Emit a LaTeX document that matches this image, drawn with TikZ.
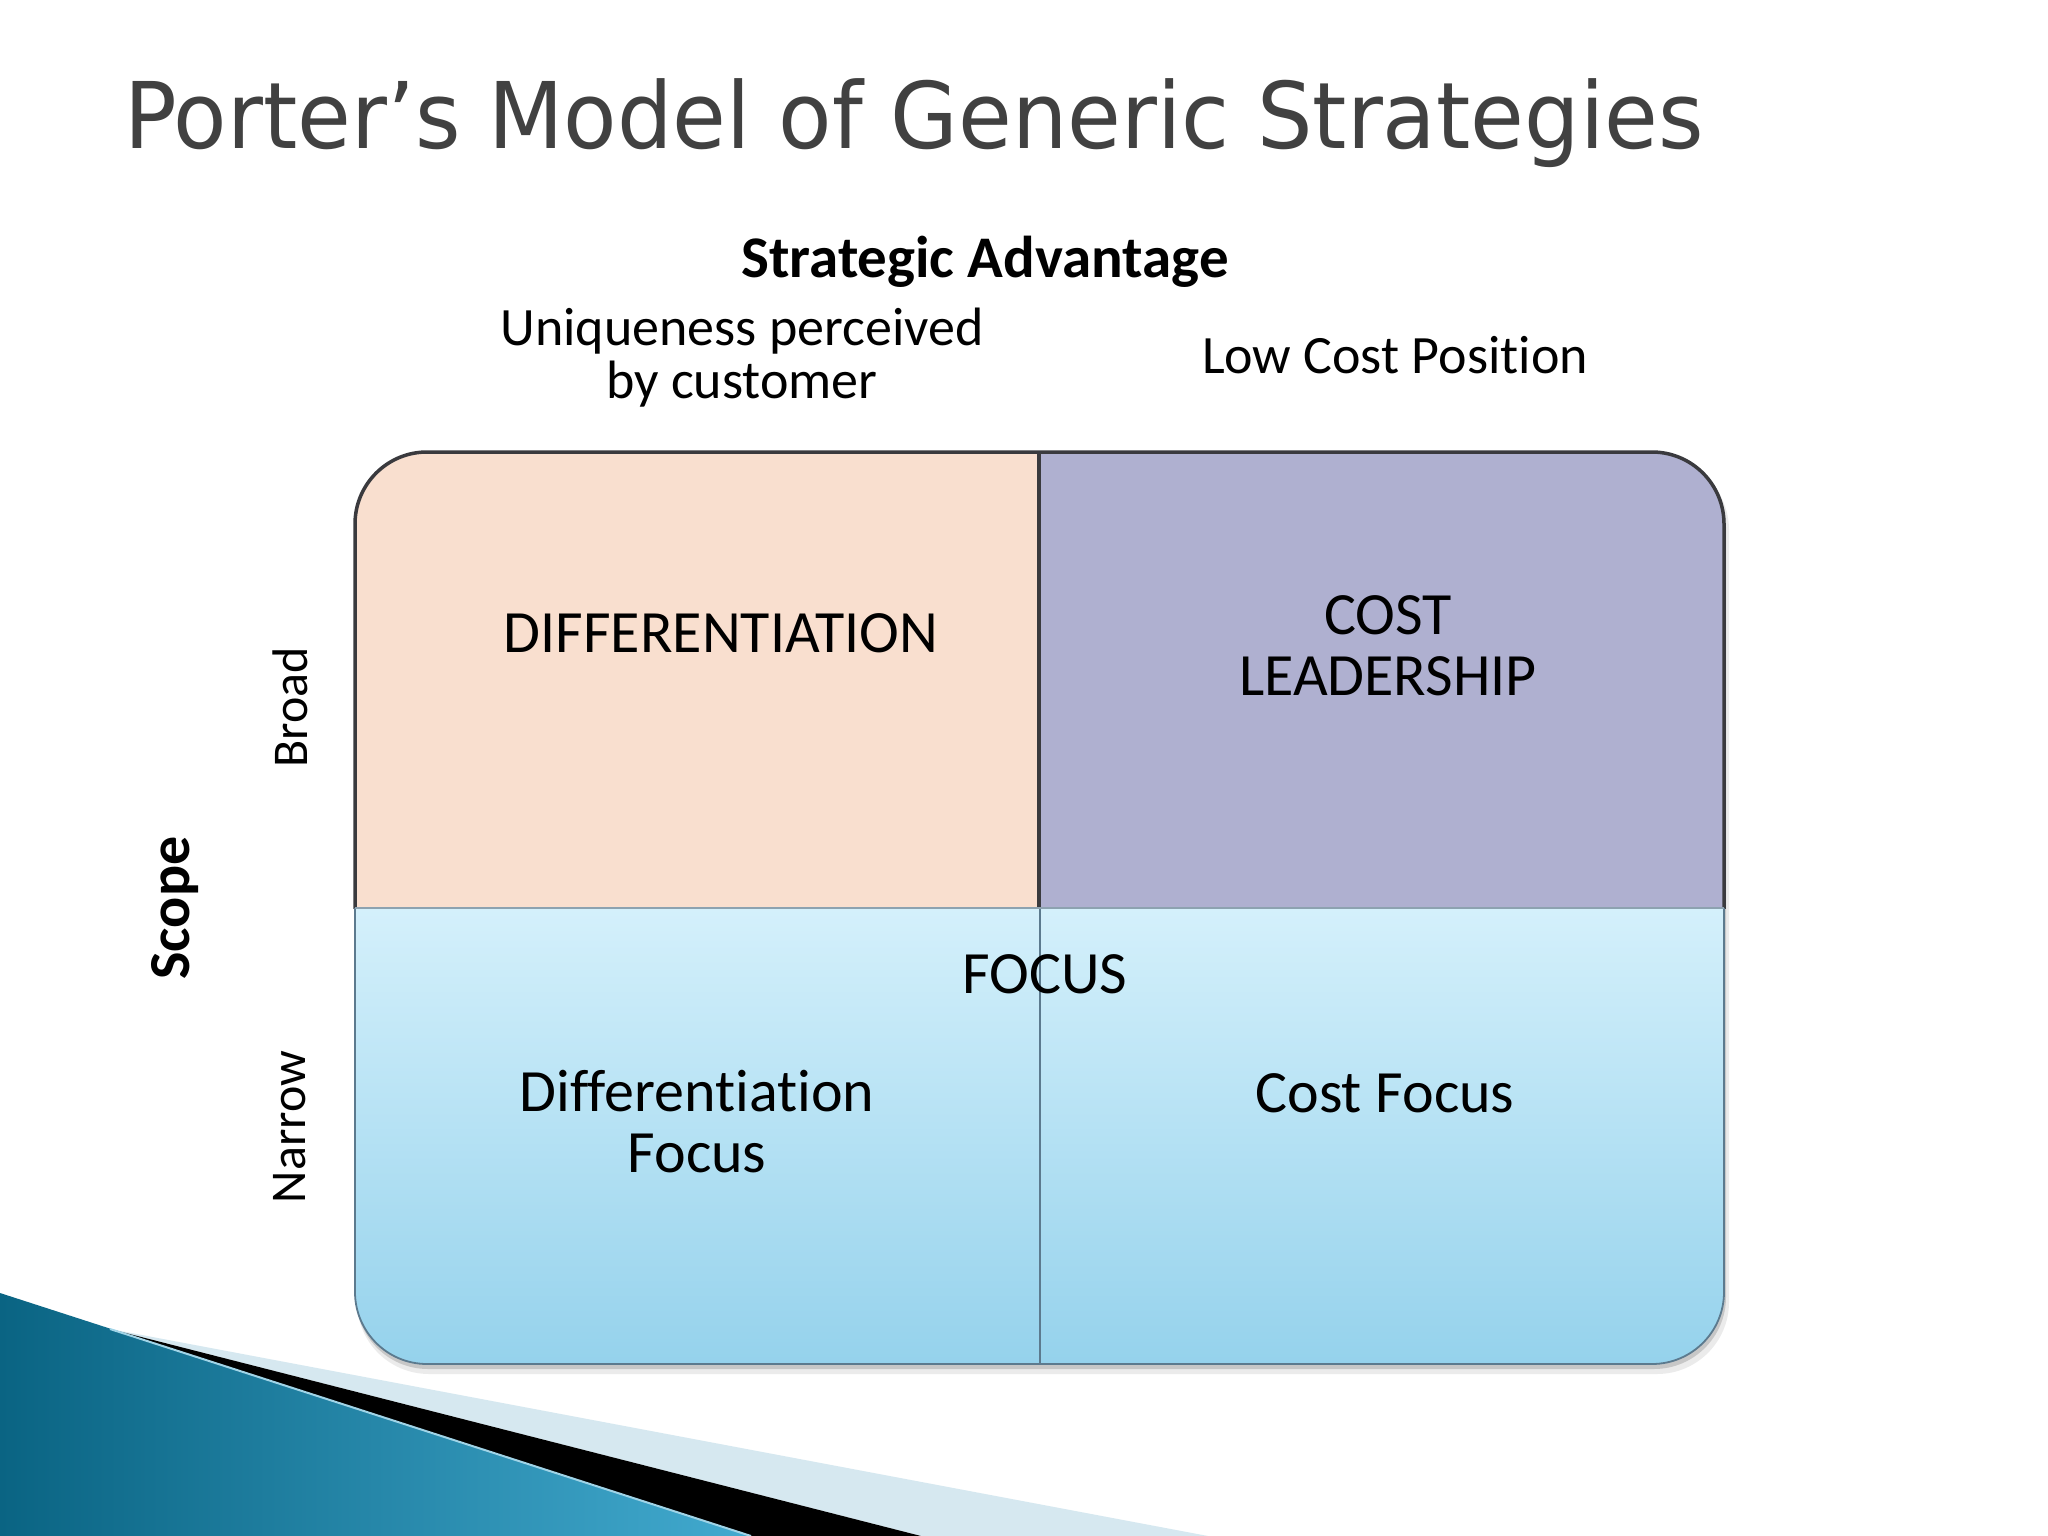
\documentclass[tikz,border=0pt]{standalone}
\usepackage{fontspec}
\setmainfont{Carlito}[Ligatures=NoCommon]
\newfontfamily\titlefont[FakeStretch=0.95]{DejaVu Sans}

\definecolor{peach}{HTML}{F9DFCF}
\definecolor{lavender}{HTML}{AFB0D0}
\definecolor{skytop}{HTML}{D4F0FB}
\definecolor{skybottom}{HTML}{95D2EC}
\definecolor{griddark}{HTML}{3A3A3E}
\definecolor{gridblue}{HTML}{5C7A8E}
\definecolor{titlegray}{HTML}{414141}
\definecolor{swooshdark}{HTML}{0A6483}
\definecolor{swooshlight}{HTML}{42AACF}
\definecolor{swooshpale}{HTML}{D6E8F0}

\begin{document}
\begin{tikzpicture}[x=1pt,y=-1pt]
\tikzstyle{title_text} = [font=\titlefont\fontsize{92}{100}\selectfont, text=titlegray,
anchor=base, inner sep=0pt]
\tikzstyle{head_text} = [font=\fontsize{54}{53}\selectfont, align=center,
anchor=base, inner sep=0pt]
\tikzstyle{cell_text} = [font=\fontsize{60}{61}\selectfont, align=center,
anchor=base, inner sep=0pt]
\tikzstyle{axis_text} = [font=\fontsize{50}{52}\selectfont, rotate=90, inner sep=0pt]
\tikzstyle{axis_title} = [font=\bfseries\fontsize{58}{60}\selectfont, rotate=90, inner sep=0pt]

\useasboundingbox (0,0) rectangle (2048,1536);
\fill[white] (0,0) rectangle (2048,1536);

% swoosh in the corner
\fill[swooshpale] (110,1329) -- (1208,1536) -- (921,1536) -- cycle;
\shade[left color=swooshdark, right color=swooshlight] (0,1293) -- (751,1536) -- (0,1536) -- cycle;
\fill[black] (110,1329) -- (921,1536) -- (751,1536) -- cycle;
\draw[swooshlight!50!white, line width=2] (110,1329) -- (751,1536);

% shadow
\fill[black, opacity=0.08, rounded corners=72] (357,458) rectangle (1729,1374);
\fill[black, opacity=0.15, rounded corners=72] (356,456) rectangle (1726,1369);

% cells
\begin{scope}
\clip[rounded corners=72] (355,452) rectangle (1724,1364);
\fill[peach] (355,452) rectangle (1039,908);
\fill[lavender] (1039,452) rectangle (1724,908);
\shade[top color=skytop, bottom color=skybottom] (355,908) rectangle (1724,1364);
\end{scope}

% borders
\begin{scope}
\clip (300,400) rectangle (1780,908);
\draw[griddark, line width=3.5, rounded corners=72] (355,452) rectangle (1724,1364);
\end{scope}
\begin{scope}
\clip (300,908) rectangle (1780,1420);
\draw[gridblue, line width=1.8, rounded corners=72] (355,452) rectangle (1724,1364);
\end{scope}
\draw[griddark, line width=3.5] (1039,452) -- (1039,908);
\draw[gridblue, line width=1.8] (1040,908) -- (1040,1364);
\draw[gridblue!70!white, line width=1.5] (355,908) -- (1724,908);

% texts (multi-line nodes sit on their last line)
\node[title_text] (title) at (914,149) {Porter’s Model of Generic Strategies};
\node[head_text, font=\bfseries\fontsize{59}{60}\selectfont] (advantage) at (985,277) {Strategic Advantage};
\node[head_text] (uniqueness) at (742,398) {Uniqueness perceived\\by customer};
\node[head_text] (low_cost) at (1395,373) {Low Cost Position};

\node[cell_text] (differentiation) at (721,652) {DIFFERENTIATION};
\node[cell_text] (cost_leadership) at (1388,695) {COST\\LEADERSHIP};
\node[cell_text] (focus) at (1045,993) {FOCUS};
\node[cell_text] (diff_focus) at (697,1172) {Differentiation\\Focus};
\node[cell_text] (cost_focus) at (1385,1112) {Cost Focus};

\node[axis_text] (broad) at (290,707) {Broad};
\node[axis_text] (narrow) at (290,1127) {Narrow};
\node[axis_title] (scope_label) at (175,908) {Scope};
\end{tikzpicture}
\end{document}
